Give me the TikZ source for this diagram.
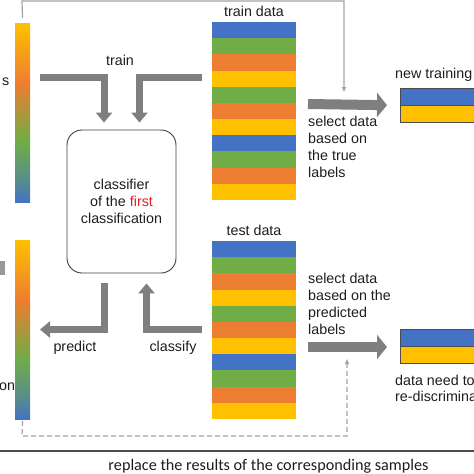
\documentclass[tikz,border=0pt]{standalone}
\usepackage{fontspec}
\setmainfont{Liberation Sans}
\newfontfamily\calfont{Carlito}
\usetikzlibrary{arrows.meta}
\definecolor{cblue}{HTML}{4472C4}
\definecolor{cgreen}{HTML}{70AD47}
\definecolor{corange}{HTML}{ED7D31}
\definecolor{cyellow}{HTML}{FFC000}
\definecolor{agray}{HTML}{7F7F7F}
\definecolor{lgray}{HTML}{A3A3A3}
\definecolor{txtc}{HTML}{1E1E1E}
\definecolor{fred}{HTML}{E0202A}
\pgfdeclareverticalshading{predgrad}{100bp}{color(0bp)=(cblue); color(25bp)=(cblue); color(31bp)=(cblue!55!cgreen); color(42bp)=(cgreen); color(58bp)=(corange); color(75bp)=(cyellow); color(100bp)=(cyellow)}
\tikzset{
  txt/.style={font=\fontsize{14.3}{17}\selectfont, text=txtc, inner sep=0pt},
  gar/.style={draw=agray, line width=7pt, line join=miter, -{Triangle[length=10pt,width=16pt]}},
  dar/.style={draw=agray, line width=10pt, -{Triangle[length=10pt,width=24pt]}},
  thinar/.style={draw=lgray, line width=1.2pt, -{Triangle[length=5pt,width=4pt]}},
  gradbar/.style={minimum width=15pt, minimum height=179pt, inner sep=0pt, shading=predgrad},
  databox/.style={minimum width=84pt, minimum height=178pt, inner sep=0pt},
  clfbox/.style={draw=black!75, line width=0.9pt, rounded corners=15pt, minimum width=109pt, minimum height=143pt, align=center, font=\fontsize{14.3}{17}\selectfont, text=txtc},
}
\begin{document}
\begin{tikzpicture}[x=1pt,y=-1pt]
\useasboundingbox (0,0) rectangle (474,474);
\clip (0,0) rectangle (474,474);
\fill[white] (0,0) rectangle (474,474);

% gradient bars
\node[gradbar] (bar1) at (22.5,112.5) {};
\node[gradbar] (bar2) at (22.5,329.5) {};
\node[txt, anchor=base west] (frag1) at (2,85) {s};
\node[txt, anchor=base west] (frag2) at (-1,390) {on};
\fill[agray!80] (0,261) rectangle (5,275);

% data columns
\node[databox] (train) at (254,111) {};
\node[databox] (test) at (254,330) {};
\foreach \c [count=\i from 0] in {cblue,cgreen,corange,cyellow,cgreen,corange,cyellow,cblue,cgreen,corange,cyellow}{
  \fill[\c] (212,{22+\i*16.18}) rectangle (296,{22+\i*16.18+16.4});
  \fill[\c] (212,{241+\i*16.18}) rectangle (296,{241+\i*16.18+16.4});
}
\node[txt, anchor=base] (trainlbl) at (254,16) {train data};
\node[txt, anchor=base] (testlbl) at (254,235) {test data};

% classifier
\node[clfbox] (clf) at (121.5,201.5) {classifier\\of the \textcolor{fred}{first}\\classification};

% train arrows
\coordinate (tl) at (40,77.5);
\coordinate (tr) at (202,77.5);
\draw[gar] (tl) -| ([xshift=-17.5pt,yshift=7pt]clf.north);
\draw[gar] (tr) -| ([xshift=18pt,yshift=7pt]clf.north);
\node[txt, anchor=base] (trainw) at (120,65) {train};

% predict / classify
\coordinate (pl) at (40,329.5);
\coordinate (cr) at (202,329.5);
\draw[gar] ([xshift=-17.5pt,yshift=-10pt]clf.south) |- (pl);
\draw[gar] (cr) -| ([xshift=25pt,yshift=-10pt]clf.south);
\node[txt, anchor=base] (predw) at (75,351) {predict};
\node[txt, anchor=base] (clsw) at (173,351) {classify};

% new training box
\node[minimum width=80pt, minimum height=34pt, inner sep=0pt, anchor=north west] (newtr) at (400,88) {};
\fill[cblue] (400,88) rectangle (480,105);
\fill[cyellow] (400,105) rectangle (480,122);
\draw[black!70, line width=0.8pt] (480,88) -- (400,88) -- (400,122) -- (480,122) (400,105) -- (480,105);
\node[txt, anchor=base west] (newlbl) at (395,78) {new training};

% re-discriminate box
\node[minimum width=80pt, minimum height=34pt, inner sep=0pt, anchor=north west] (redis) at (400,329) {};
\fill[cblue] (400,329) rectangle (480,346);
\fill[cyellow] (400,346) rectangle (480,363);
\draw[black!70, line width=0.8pt] (480,329) -- (400,329) -- (400,363) -- (480,363) (400,346) -- (480,346);
\node[txt, anchor=base west] (red1) at (395,385) {data need to};
\node[txt, anchor=base west] (red2) at (395,401) {re-discriminated};

% data arrows
\draw[dar] (308,104) -- ([xshift=-13pt]newtr.west);
\draw[dar] (308,347) -- ([xshift=-13pt]redis.west |- 0,347);
\foreach \t [count=\i from 0] in {select data, based on, the true, labels}
  \node[txt, anchor=base west] (sa\i) at (308,{126+17*\i}) {\t};
\foreach \t [count=\i from 0] in {select data, based on the, predicted, labels}
  \node[txt, anchor=base west] (sb\i) at (308,{283+17*\i}) {\t};

% thin connectors
\coordinate (topr) at (344,92);
\draw[thinar] ([yshift=5pt]bar1.north) -- (22,1) -| (topr);
\coordinate (dashr) at (347,359);
\draw[thinar, dash pattern=on 5pt off 3pt] ([yshift=-2pt]bar2.south) -- (22,436) -| (dashr);

% bottom rule and caption
\coordinate (rl) at (0,451);
\coordinate (rr) at (474,451);
\draw[black!70, line width=2pt] (rl) -- (rr);
\node[font=\calfont\fontsize{16.2}{19}\selectfont, text=txtc, inner sep=0pt, anchor=base] (cap) at (268.5,470) {replace the results of the corresponding samples};
\end{tikzpicture}
\end{document}
